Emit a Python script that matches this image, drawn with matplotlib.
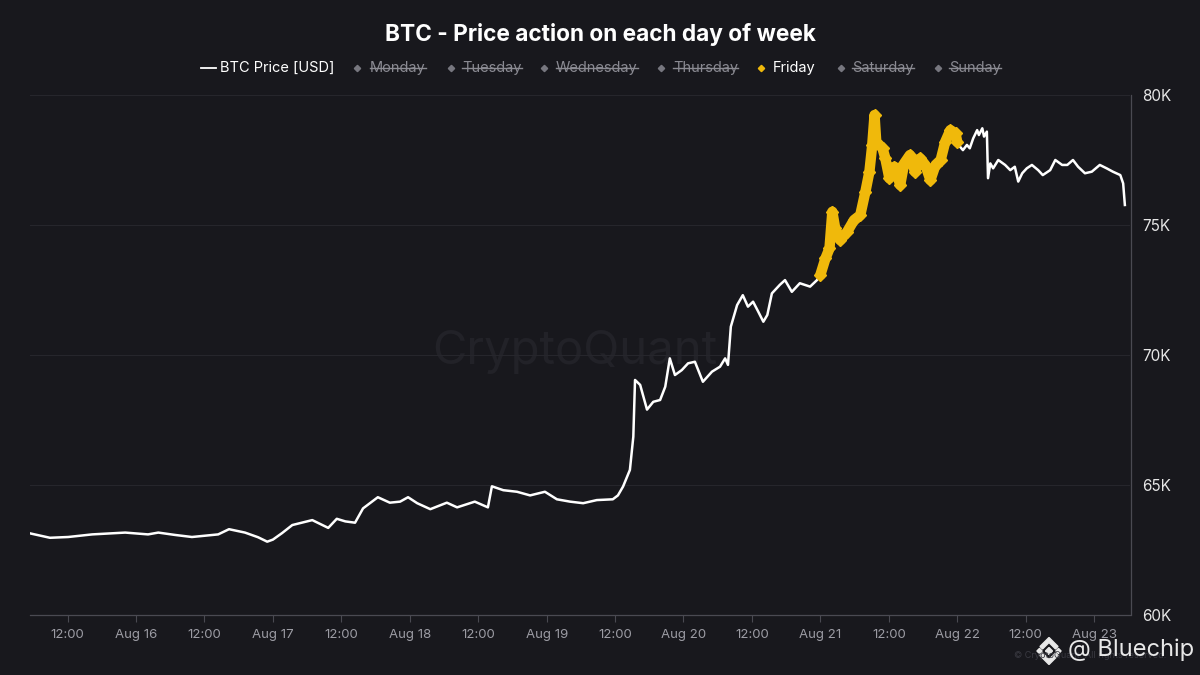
import numpy as np
import matplotlib
matplotlib.use("Agg")
import matplotlib.pyplot as plt
from matplotlib.patches import Polygon

plt.rcParams['font.family'] = ['Inter', 'DejaVu Sans']

# ---------------- data ----------------
# hours since Aug 15 00:00
hours = [5.4, 8.9, 12.1, 16.3, 22.1, 26.1, 27.9, 30.8, 33.8, 38.4,
         40.3, 43.1, 45.4, 47.0, 48.0, 49.6, 51.4, 54.9, 57.7, 59.2,
         60.7, 62.4, 63.8, 66.4, 68.5, 70.3, 71.7, 73.3, 75.6, 78.5,
         80.3, 83.4, 85.7, 86.4, 88.4, 90.8, 93.1, 95.7, 97.8, 100.1,
         102.4, 104.8, 107.6, 108.5, 109.4, 110.6, 111.2, 111.5, 112.4, 113.6,
         114.7, 115.9, 116.8, 117.6, 118.5, 119.7, 120.8, 122.0, 123.4, 125.0,
         126.4, 127.3, 127.8, 128.3, 129.4, 130.4, 131.3, 132.2, 133.1, 134.0,
         134.7, 135.5, 136.9, 137.8, 139.0, 140.4, 142.2, 143.4,
         144.0, 144.9, 145.6, 146.1, 146.6, 147.5, 148.7, 149.9, 151.0, 151.9,
         152.6, 153.1, 153.5, 153.8, 154.9, 155.4, 156.1, 157.0, 157.5, 158.0,
         158.7, 159.7, 160.6, 161.5, 162.4, 163.3, 164.2, 165.1, 165.9, 166.8,
         167.7, 168.0,
         168.5, 169.0, 169.7, 170.2, 170.8, 171.5, 171.8, 172.4, 172.7, 173.2,
         173.4, 173.8, 174.3, 175.2, 176.4, 177.3, 178.1, 178.7, 179.4, 180.2,
         181.1, 182.2, 183.0, 184.3, 185.2, 186.4, 187.3, 188.3, 189.2, 190.4,
         191.6, 193.0, 194.2, 195.3, 196.6, 197.1, 197.4]

price_k = [63.14, 62.97, 63.0, 63.1, 63.17, 63.1, 63.17, 63.08, 63.0, 63.1,
           63.3, 63.17, 62.99, 62.82, 62.9, 63.15, 63.46, 63.65, 63.35, 63.7,
           63.6, 63.55, 64.1, 64.53, 64.32, 64.36, 64.53, 64.3, 64.07, 64.32,
           64.14, 64.36, 64.14, 64.95, 64.8, 64.74, 64.6, 64.74, 64.45, 64.36,
           64.3, 64.42, 64.45, 64.6, 64.94, 65.58, 66.86, 69.04, 68.85, 67.9,
           68.2, 68.27, 68.78, 69.87, 69.23, 69.42, 69.68, 69.74, 68.97, 69.36,
           69.55, 69.87, 69.62, 71.09, 71.92, 72.3, 71.86, 72.05, 71.67, 71.28,
           71.54, 72.37, 72.7, 72.88, 72.43, 72.76, 72.63, 72.88,
           73.08, 73.72, 74.1, 75.51, 74.87, 74.42, 74.74, 75.19, 75.38, 76.28,
           77.05, 78.08, 79.23, 78.2, 77.95, 77.56, 76.8, 77.24, 76.92, 76.54,
           77.37, 77.69, 77.05, 77.56, 77.31, 76.73, 77.31, 77.5, 78.2, 78.65,
           78.52, 78.2,
           78.01, 77.88, 78.08, 77.95, 78.33, 78.65, 78.46, 78.72, 78.4, 78.59,
           76.8, 77.37, 77.18, 77.5, 77.31, 77.11, 77.24, 76.67, 76.99, 77.18,
           77.31, 77.11, 76.92, 77.11, 77.5, 77.31, 77.31, 77.5, 77.24, 76.99,
           77.05, 77.31, 77.18, 77.05, 76.92, 76.6, 75.77]

friday_start, friday_end = 144.0, 168.0

xtick_hours = [12, 24, 36, 48, 60, 72, 84, 96, 108, 120, 132, 144, 156, 168, 180, 192]
xtick_labels = ["12:00", "Aug 16", "12:00", "Aug 17", "12:00", "Aug 18", "12:00", "Aug 19",
                "12:00", "Aug 20", "12:00", "Aug 21", "12:00", "Aug 22", "12:00", "Aug 23"]
ytick_vals = [60000, 65000, 70000, 75000, 80000]
ytick_labels = ["60K", "65K", "70K", "75K", "80K"]

legend_names = ["BTC Price [USD]", "Monday", "Tuesday", "Wednesday", "Thursday",
                "Friday", "Saturday", "Sunday"]
legend_active = [True, False, False, False, False, True, False, False]

title = "BTC - Price action on each day of week"

# ---------------- style ----------------
BG = "#18181d"
YELLOW = "#f0b90b"
GRID = "#26262c"
AXIS = "#4a4a52"

h = np.array(hours)
p = np.array(price_k) * 1000.0

fig = plt.figure(figsize=(12, 6.75), dpi=100, facecolor=BG)
ax = fig.add_axes([30/1200, 1-615/675, 1100/1200, 520/675], facecolor=BG)

# watermark
ax.text(0.495, 0.505, "CryptoQuant", transform=ax.transAxes, ha="center", va="center",
        fontsize=34, color="#222228", zorder=0)

ax.plot(h, p, color="white", lw=1.8, zorder=3)
m = (h >= friday_start) & (h <= friday_end)
ax.plot(h[m], p[m], color=YELLOW, lw=7.5, zorder=4, solid_joinstyle="round",
        solid_capstyle="round")
ax.plot(h[m], p[m], ls="none", marker="D", ms=6, color=YELLOW, zorder=5)

ax.set_xlim(5.4, 198.3)
ax.set_ylim(60000, 80000)
ax.yaxis.tick_right()
ax.set_yticks(ytick_vals)
ax.set_yticklabels(ytick_labels)
ax.set_xticks(xtick_hours)
ax.set_xticklabels(xtick_labels)
ax.tick_params(axis="x", colors=AXIS, labelcolor="#9c9ca4", labelsize=9.5, length=5, width=0.8, pad=5)
ax.tick_params(axis="y", length=0, labelcolor="#e6e6e6", labelsize=11, pad=8)
ax.grid(axis="y", color=GRID, lw=0.8)
ax.grid(axis="x", visible=False)
for s in ["top", "left"]:
    ax.spines[s].set_visible(False)
ax.spines["bottom"].set_color(AXIS)
ax.spines["right"].set_color(AXIS)
ax.spines["bottom"].set_linewidth(0.9)
ax.spines["right"].set_linewidth(0.9)
ax.spines["right"].set_position(("outward", 1))

# overlay in pixel coords
ov = fig.add_axes([0, 0, 1, 1], facecolor="none")
ov.set_xlim(0, 1200)
ov.set_ylim(675, 0)
ov.axis("off")

ov.text(600, 35, title, ha="center", va="center", fontsize=16.3, fontweight="bold", color="white")

# legend
ly = 68
ov.plot([201, 216], [ly, ly], color="white", lw=1.3)
text_x = [220, 370, 462, 556, 673, 773, 852, 949]
marker_x = [None, 357, 451, 544, 661, 761, 841, 938]
fig.canvas.draw()
renderer = fig.canvas.get_renderer()
inv = ov.transData.inverted()
for name, act, tx, mx in zip(legend_names, legend_active, text_x, marker_x):
    col = "white" if act else "#8a8a92"
    t = ov.text(tx, ly, name, ha="left", va="center", fontsize=10.5, color=col)
    if mx is not None:
        mc = YELLOW if name == "Friday" else "#77777f"
        ov.plot([mx], [ly], marker="D", ms=3.2, color=mc, ls="none")
    if not act:
        bb = t.get_window_extent(renderer)
        (x0, y0), (x1, y1) = inv.transform([(bb.x0, bb.y0), (bb.x1, bb.y1)])
        ov.plot([x0, x1], [ly, ly], color="#8a8a92", lw=1.0)

# copyright + brand
ov.text(1090, 655, "© CryptoQuant. All rights reserved.", ha="center", va="center",
        fontsize=6.5, color="#3a3a42")
ov.text(1068, 650, "@ Bluechip", ha="left", va="center", fontsize=17, color="#e8e8e8")
cx, cy = 1049, 651
def diamond(x, y, r):
    return [(x, y - r), (x + r, y), (x, y + r), (x - r, y)]
ov.add_patch(Polygon(diamond(cx, cy, 3.5), closed=True, color="#e8e8e8"))
ov.add_patch(Polygon(diamond(cx - 9.5, cy, 2.6), closed=True, color="#e8e8e8"))
ov.add_patch(Polygon(diamond(cx + 9.5, cy, 2.6), closed=True, color="#e8e8e8"))
for sgn in (-1, 1):
    ov.add_patch(Polygon([(cx - 9, cy + sgn * 4.5), (cx, cy + sgn * 13.5), (cx + 9, cy + sgn * 4.5),
                          (cx + 6.5, cy + sgn * 2.0), (cx, cy + sgn * 8.5), (cx - 6.5, cy + sgn * 2.0)],
                         closed=True, color="#e8e8e8"))

fig.savefig("out.png", dpi=100, facecolor=BG)
